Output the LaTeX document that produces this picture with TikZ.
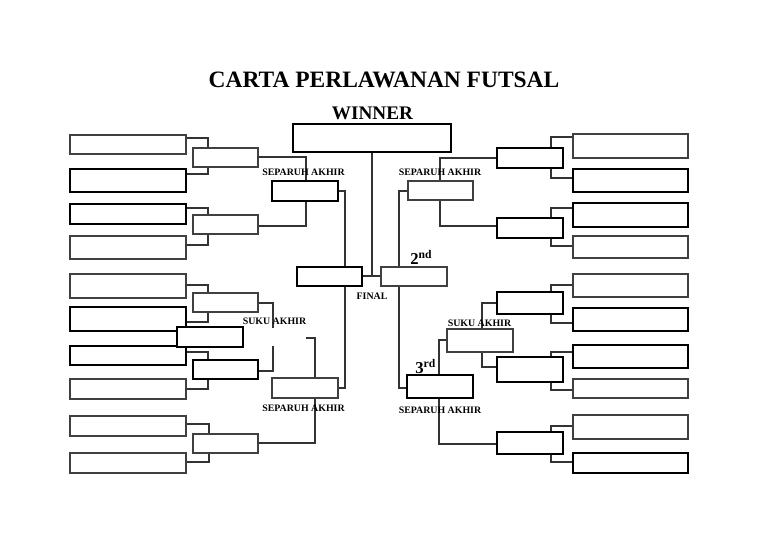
\documentclass[tikz,border=0pt]{standalone}
\usepackage{fontspec}
\setmainfont{Liberation Serif}
\usetikzlibrary{backgrounds}
\tikzset{
 thinbox/.style={draw=black!75, line width=0.8pt, fill=white, inner sep=0pt, outer sep=0pt},
 thickbox/.style={draw=black, line width=1.5pt, fill=white, inner sep=0pt, outer sep=0pt},
 conn/.style={draw=black!80, line width=0.8pt},
 lbl/.style={font=\bfseries\fontsize{7.4}{8}\selectfont, text=black, inner sep=0pt},
 rank/.style={font=\bfseries\fontsize{12.5}{14}\selectfont, inner sep=0pt, anchor=base west},
}
\newcommand{\bx}[6]{\node[#6, anchor=north west, minimum width={(#4-#2)*0.75pt}, minimum height={(#5-#3)*0.75pt}] (#1) at (#2,#3) {};}
\begin{document}
\begin{tikzpicture}[x=0.75pt,y=-0.75pt]
\useasboundingbox (0,0) rectangle (768,543);
% titles
\node[font=\bfseries\fontsize{17.6}{20}\selectfont, inner sep=0pt] (title) at (384,79.5) {CARTA PERLAWANAN FUTSAL};
\node[font=\bfseries\fontsize{14.4}{16}\selectfont, inner sep=0pt] (winlbl) at (372.5,113) {WINNER};
% left first round
\bx{L1}{70}{135}{186}{154}{thinbox}
\bx{L2}{70}{169}{186}{192}{thickbox}
\bx{L3}{70}{204}{186}{224}{thickbox}
\bx{L4}{70}{236}{186}{259}{thinbox}
\bx{L5}{70}{274}{186}{298}{thinbox}
\bx{L6}{70}{307}{186}{331}{thickbox}
\bx{L7}{70}{346}{186}{365}{thickbox}
\bx{L8}{70}{379}{186}{399}{thinbox}
\bx{L9}{70}{416}{186}{436}{thinbox}
\bx{L10}{70}{453}{186}{473}{thinbox}
% left second round
\bx{LA}{193}{148}{258}{167}{thinbox}
\bx{LB}{193}{215}{258}{234}{thinbox}
\bx{LC}{193}{293}{258}{312}{thinbox}
\bx{LD}{193}{360}{258}{379}{thickbox}
\bx{LE}{193}{434}{258}{453}{thinbox}
\bx{LS}{177}{327}{243}{347}{thickbox}
\bx{LSF1}{272}{181}{338}{201}{thickbox}
\bx{LSF2}{272}{378}{338}{398}{thinbox}
% centre
\bx{W}{293}{124}{451}{152}{thickbox}
\bx{FL}{297}{267}{362}{286}{thickbox}
\bx{FR}{381}{267}{447}{286}{thinbox}
% right side
\bx{RSF1}{408}{181}{473}{200}{thinbox}
\bx{RSF2}{407}{375}{473}{398}{thickbox}
\bx{RS}{447}{329}{513}{352}{thinbox}
\bx{RA}{497}{148}{563}{168}{thickbox}
\bx{RB}{497}{218}{563}{238}{thickbox}
\bx{RC}{497}{292}{563}{314}{thickbox}
\bx{RD}{497}{357}{563}{382}{thickbox}
\bx{RE}{497}{432}{563}{454}{thickbox}
\bx{R1}{573}{134}{688}{158}{thinbox}
\bx{R2}{573}{169}{688}{192}{thickbox}
\bx{R3}{573}{203}{688}{227}{thickbox}
\bx{R4}{573}{236}{688}{258}{thinbox}
\bx{R5}{573}{274}{688}{297}{thinbox}
\bx{R6}{573}{308}{688}{331}{thickbox}
\bx{R7}{573}{345}{688}{368}{thickbox}
\bx{R8}{573}{379}{688}{398}{thinbox}
\bx{R9}{573}{415}{688}{439}{thinbox}
\bx{R10}{573}{453}{688}{473}{thickbox}
% labels
\node[lbl] (t1) at (303.5,172) {SEPARUH AKHIR};
\node[lbl] (t2) at (440,172.5) {SEPARUH AKHIR};
\node[lbl] (t3) at (303.5,408) {SEPARUH AKHIR};
\node[lbl] (t4) at (440,410) {SEPARUH AKHIR};
\node[lbl] (t5) at (274.5,321) {SUKU AKHIR};
\node[lbl] (t6) at (479.5,323) {SUKU AKHIR};
\node[lbl] (t7) at (372,296) {FINAL};
\node[rank] (second) at (410,264) {2\textsuperscript{nd}};
\node[rank] (third) at (415,373) {3\textsuperscript{rd}};
% connectors
\begin{scope}[on background layer]
\draw[conn] (L1.east |- 0,138) -- (208,138) -- (208,174) -- (L2.east |- 0,174);
\draw[conn] (L3.east |- 0,208) -- (208,208) -- (208,245) -- (L4.east |- 0,245);
\draw[conn] (L5.east |- 0,285) -- (208,285) -- (208,322) -- (L6.east |- 0,322);
\draw[conn] (L7.east |- 0,352) -- (208,352) -- (208,389) -- (L8.east |- 0,389);
\draw[conn] (L9.east |- 0,424) -- (209,424) -- (209,462) -- (L10.east |- 0,462);
\draw[conn] (LA.east |- 0,157) -- (306,157) -- (306,226) -- (LB.east |- 0,226);
\draw[conn] (LSF1.east |- 0,191) -- (345,191) -- (345,388) -- (LSF2.east |- 0,388);
\draw[conn] (LC.east |- 0,303) -- (273,303) -- (273,328);
\draw[conn] (273,346) -- (273,371) -- (LD.east |- 0,371);
\draw[conn] (306,338) -- (315,338) -- (315,443) -- (LE.east |- 0,443);
\draw[conn] (W.south) -- (W.south |- 0,276);
\draw[conn] (FL.east |- 0,276) -- (FR.west |- 0,276);
\draw[conn] (RSF1.west |- 0,191) -- (399,191) -- (399,388) -- (RSF2.west |- 0,388);
\draw[conn] (RA.west |- 0,158) -- (440,158) -- (440,226) -- (RB.west |- 0,226);
\draw[conn] (R1.west |- 0,137) -- (551,137) -- (551,178) -- (R2.west |- 0,178);
\draw[conn] (R3.west |- 0,208) -- (551,208) -- (551,246) -- (R4.west |- 0,246);
\draw[conn] (R5.west |- 0,285) -- (551,285) -- (551,323) -- (R6.west |- 0,323);
\draw[conn] (R7.west |- 0,352) -- (551,352) -- (551,390) -- (R8.west |- 0,390);
\draw[conn] (R9.west |- 0,426) -- (551,426) -- (551,462) -- (R10.west |- 0,462);
\draw[conn] (RC.west |- 0,303) -- (482,303) -- (482,367) -- (RD.west |- 0,367);
\draw[conn] (RS.west |- 0,340) -- (439,340) -- (439,444) -- (RE.west |- 0,444);
\end{scope}
\end{tikzpicture}
\end{document}
